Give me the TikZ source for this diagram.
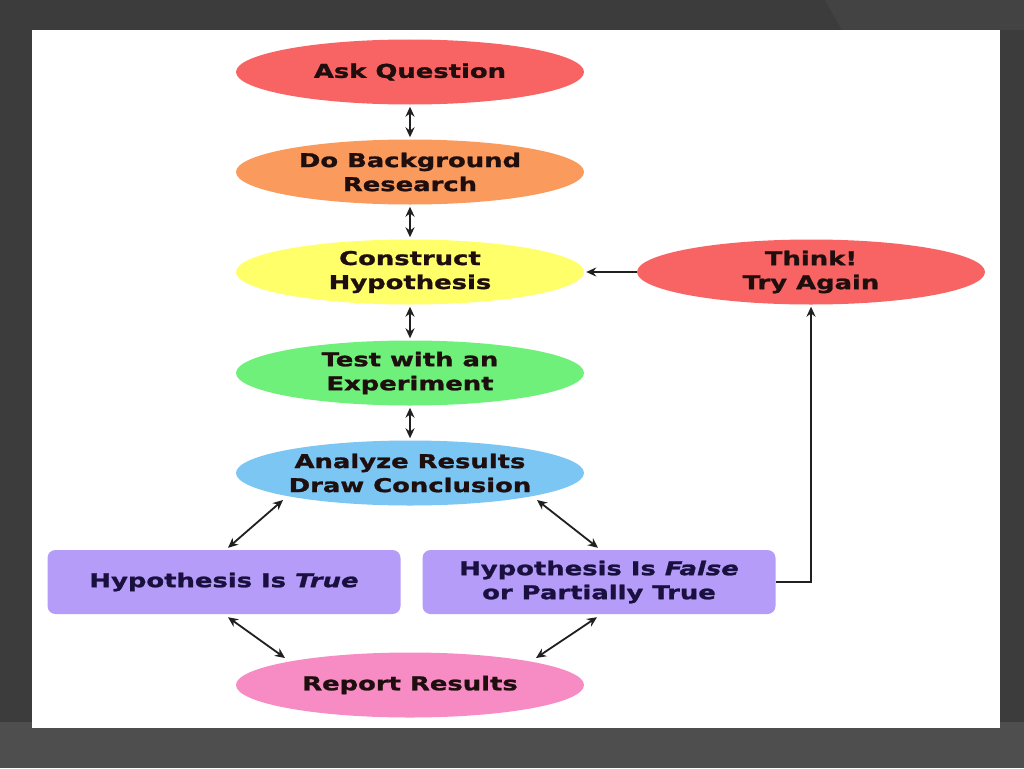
\documentclass[tikz,border=0pt]{standalone}
\usepackage{fontspec}
\setmainfont{DejaVu Sans}[FakeStretch=1.36, BoldFeatures={FakeBold=1.3}, BoldItalicFeatures={FakeBold=1.3}]
\usetikzlibrary{shapes.geometric,arrows.meta,calc}
\definecolor{bgdark}{HTML}{3C3C3C}
\definecolor{bgband}{HTML}{4E4E4E}
\definecolor{bgcorner}{HTML}{434343}
\definecolor{cask}{HTML}{F86464}
\definecolor{cbg}{HTML}{FA9A5C}
\definecolor{chyp}{HTML}{FFFF6A}
\definecolor{ctest}{HTML}{6EF07A}
\definecolor{cana}{HTML}{7CC6F4}
\definecolor{cpur}{HTML}{B49CF8}
\definecolor{crep}{HTML}{F78CC4}
\definecolor{txtdark}{HTML}{1E0E0E}
\definecolor{txtnavy}{HTML}{1A1040}
\definecolor{linecol}{HTML}{202020}
\tikzset{
  stepell/.style={ellipse, minimum width=348pt, minimum height=65pt, inner sep=0pt,
    align=center, text=txtdark, font=\fontsize{19}{24}\selectfont\bfseries},
  resbox/.style={rectangle, rounded corners=8pt, minimum width=353pt, minimum height=64pt,
    inner sep=0pt, align=center, fill=cpur, text=txtnavy, font=\fontsize{19}{24}\selectfont\bfseries},
  tip/.style={Stealth[length=10pt,width=9pt]},
  dbl/.style={line width=1.8pt, draw=linecol, {Stealth[length=10pt,width=9pt]}-{Stealth[length=10pt,width=9pt]}},
  sgl/.style={line width=1.6pt, draw=linecol, -{Stealth[length=10pt,width=9pt]}}
}
\begin{document}
\begin{tikzpicture}[x=1pt,y=-1pt]
\useasboundingbox (0,0) rectangle (1024,768);
% background
\fill[bgdark] (0,0) rectangle (1024,768);
\fill[bgcorner] (825,0) -- (1024,0) -- (1024,30) -- (842,30) -- cycle;
\fill[bgband] (0,722) rectangle (1024,768);
\fill[white] (32,30) rectangle (1000,728);
% nodes
\node[stepell, fill=cask] (ask) at (410,72) {Ask Question};
\node[stepell, fill=cbg] (bg) at (410,172) {Do Background\\Research};
\node[stepell, fill=chyp] (hyp) at (410,272) {Construct\\Hypothesis};
\node[stepell, fill=ctest] (test) at (410,373) {Test with an\\Experiment};
\node[stepell, fill=cana] (ana) at (410,473) {Analyze Results\\Draw Conclusion};
\node[stepell, fill=cask] (think) at (811,272) {Think!\\Try Again};
\node[resbox] (true) at (224,582) {Hypothesis Is \textit{True}};
\node[resbox] (false) at (599,582) {Hypothesis Is \textit{False}\\or Partially True};
\node[stepell, fill=crep] (rep) at (410,685) {Report Results};
% connectors
\draw[dbl, shorten <=2pt, shorten >=2pt] (ask.south) -- (bg.north);
\draw[dbl, shorten <=2pt, shorten >=2pt] (bg.south) -- (hyp.north);
\draw[dbl, shorten <=2pt, shorten >=2pt] (hyp.south) -- (test.north);
\draw[dbl, shorten <=2pt, shorten >=2pt] (test.south) -- (ana.north);
\draw[dbl] ($(ana.center)+(-127,27)$) -- ($(true.north)+(4,-2)$);
\draw[dbl] ($(ana.center)+(127,27)$) -- ($(false.north)+(-1,-2)$);
\draw[dbl] ($(true.south)+(4,3)$) -- ($(rep.center)+(-125,-27)$);
\draw[dbl] ($(false.south)+(-2,3)$) -- ($(rep.center)+(126,-27)$);
\draw[sgl, shorten >=2pt] (false.east) -| (think.south);
\draw[sgl, shorten >=2pt] (think.west) -- (hyp.east);
\end{tikzpicture}
\end{document}
